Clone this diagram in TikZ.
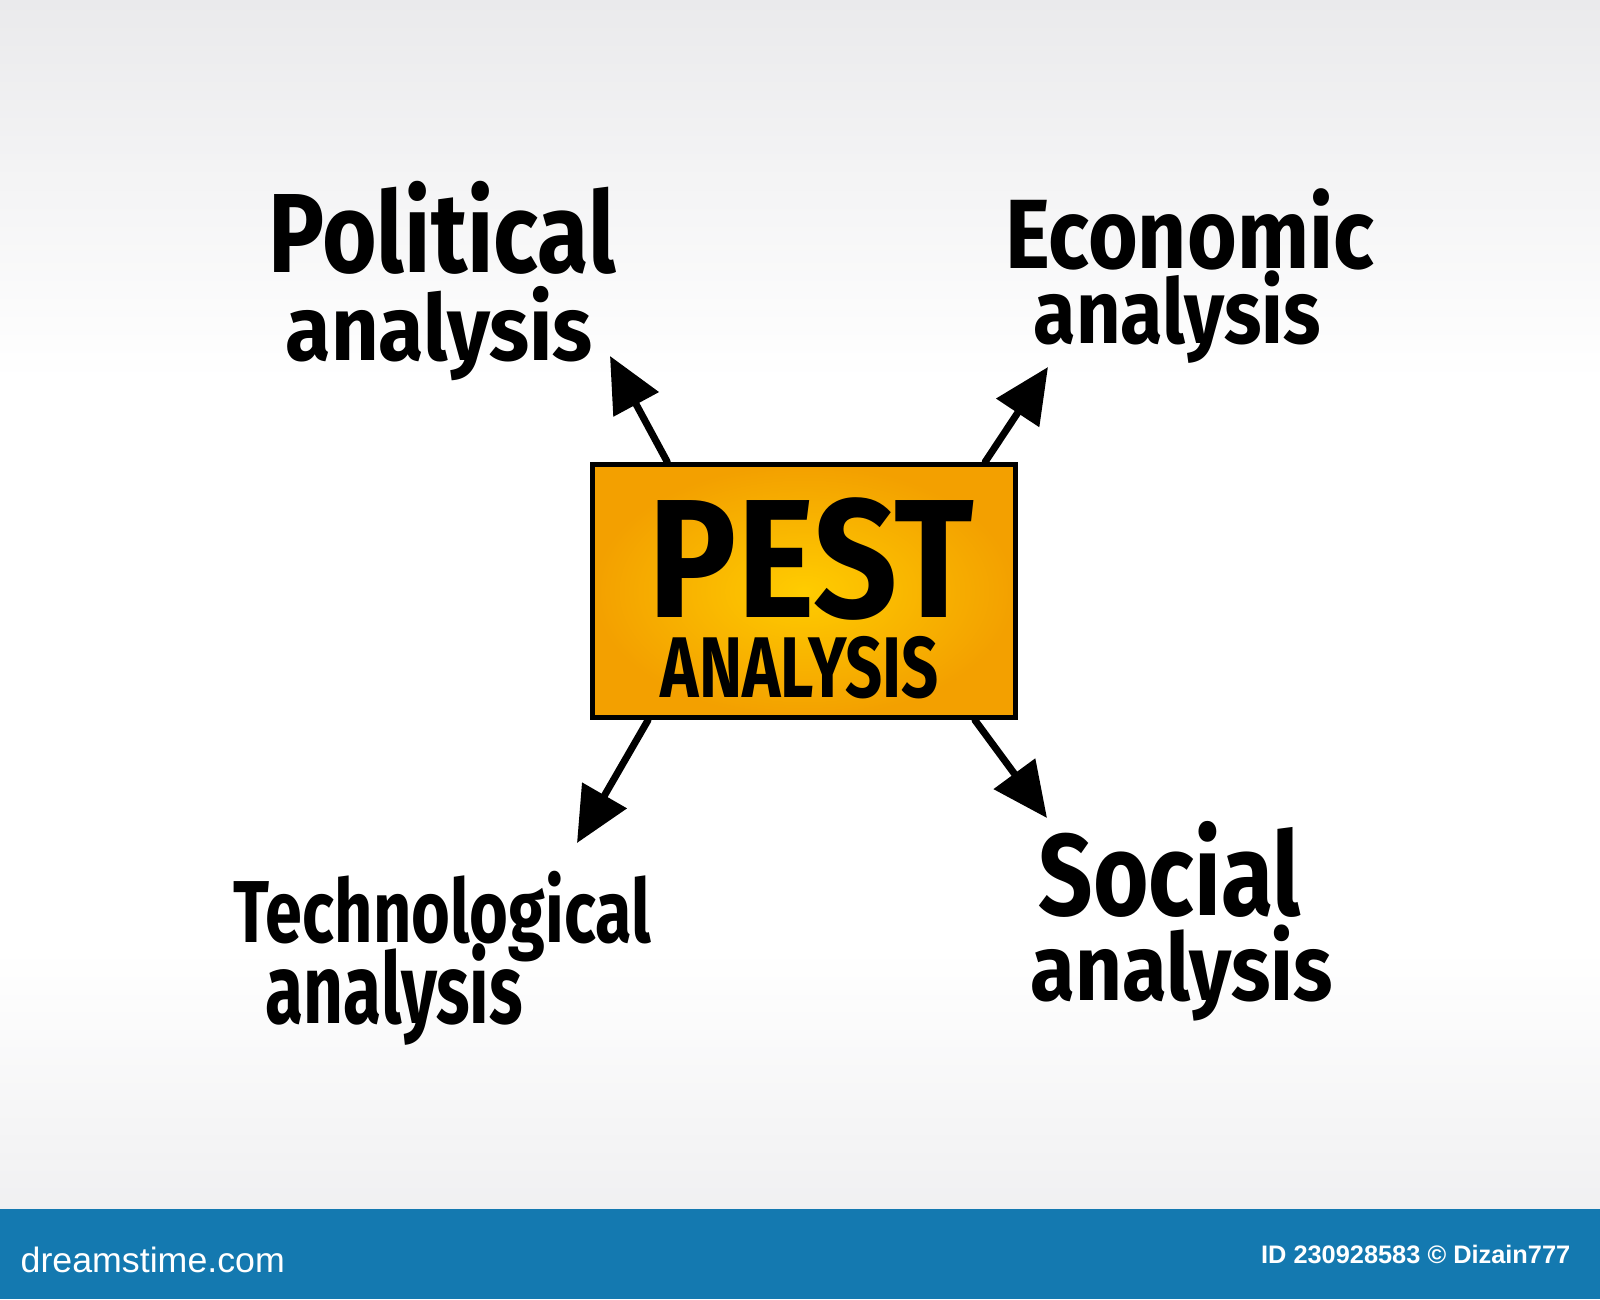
\documentclass[tikz,border=0pt]{standalone}
\usepackage{fontspec}
\setmainfont{Fira Sans}
\newfontfamily\bannerfont{Liberation Sans}
\usetikzlibrary{arrows.meta,calc}

\definecolor{boxinner}{RGB}{255,204,0}
\definecolor{boxouter}{RGB}{243,160,0}
\definecolor{bggray}{RGB}{234,234,236}
\definecolor{bannerblue}{RGB}{20,121,176}

\newcommand{\hw}[3]{\resizebox{#1}{\height}{\fontsize{#2}{#2}\selectfont\bfseries #3}}

\begin{document}
\begin{tikzpicture}[x=0.01cm,y=-0.01cm,
	lbl/.style={anchor=base west,inner sep=0pt,text=black},
	pestbox/.style={draw=black,line width=1.4pt,minimum width=4.22cm,minimum height=2.53cm,inner sep=0pt,
		shading=radial,inner color=boxinner,outer color=boxouter},
	arr/.style={line width=2pt,line cap=round,-{Triangle[length=5.5mm,width=5mm]}}]
	
	\useasboundingbox (0,0) rectangle (1600,1299);
	\fill[white] (0,0) rectangle (1600,1209);
	\shade[top color=bggray,bottom color=white] (0,0) rectangle (1600,380);
	\shade[top color=white,bottom color=bggray!70] (0,950) rectangle (1600,1209);
	\fill[bannerblue] (0,1209) rectangle (1600,1299);
	
	\node[pestbox] (pest) at (804,591) {};
	\node[lbl] (pesttitle) at (648,617) {\hw{3.25cm}{48}{PEST}};
	\node[lbl] (pestsub) at (660,697) {\hw{2.78cm}{24.5}{ANALYSIS}};
	
	\node[lbl] (pol) at (268,272) {\hw{3.47cm}{32}{Political}};
	\node[lbl] (polsub) at (285,360) {\hw{3.07cm}{26}{analysis}};
	\node[lbl] (eco) at (1005,268) {\hw{3.68cm}{28}{Economic}};
	\node[lbl] (ecosub) at (1033,343) {\hw{2.87cm}{25.5}{analysis}};
	\node[lbl] (tech) at (233,942) {\hw{4.17cm}{25}{Technological}};
	\node[lbl] (techsub) at (265,1023) {\hw{2.57cm}{28}{analysis}};
	\node[lbl] (soc) at (1038,915) {\hw{2.62cm}{33}{Social}};
	\node[lbl] (socsub) at (1030,1000) {\hw{3.02cm}{26.5}{analysis}};
	
	\coordinate (poltip) at (610,356);
	\coordinate (ecotip) at (1048,367);
	\coordinate (techtip) at (577,843);
	\coordinate (soctip) at (1047,818);
	
	\draw[arr] ($(pest.north west)!0.18!(pest.north east)$) -- (poltip);
	\draw[arr] ($(pest.north west)!0.924!(pest.north east)$) -- (ecotip);
	\draw[arr] ($(pest.south west)!0.135!(pest.south east)$) -- (techtip);
	\draw[arr] ($(pest.south west)!0.90!(pest.south east)$) -- (soctip);
	
	\node[anchor=base west,inner sep=0pt,text=white] (ds) at (20,1272)
		{\resizebox{2.64cm}{\height}{\bannerfont\fontsize{10}{10}\selectfont dreamstime.com}};
	\node[anchor=base east,inner sep=0pt,text=white] (imgid) at (1571,1263)
		{\resizebox{3.09cm}{\height}{\bannerfont\fontsize{7.2}{7.2}\selectfont\bfseries ID 230928583 © Dizain777}};
\end{tikzpicture}
\end{document}
